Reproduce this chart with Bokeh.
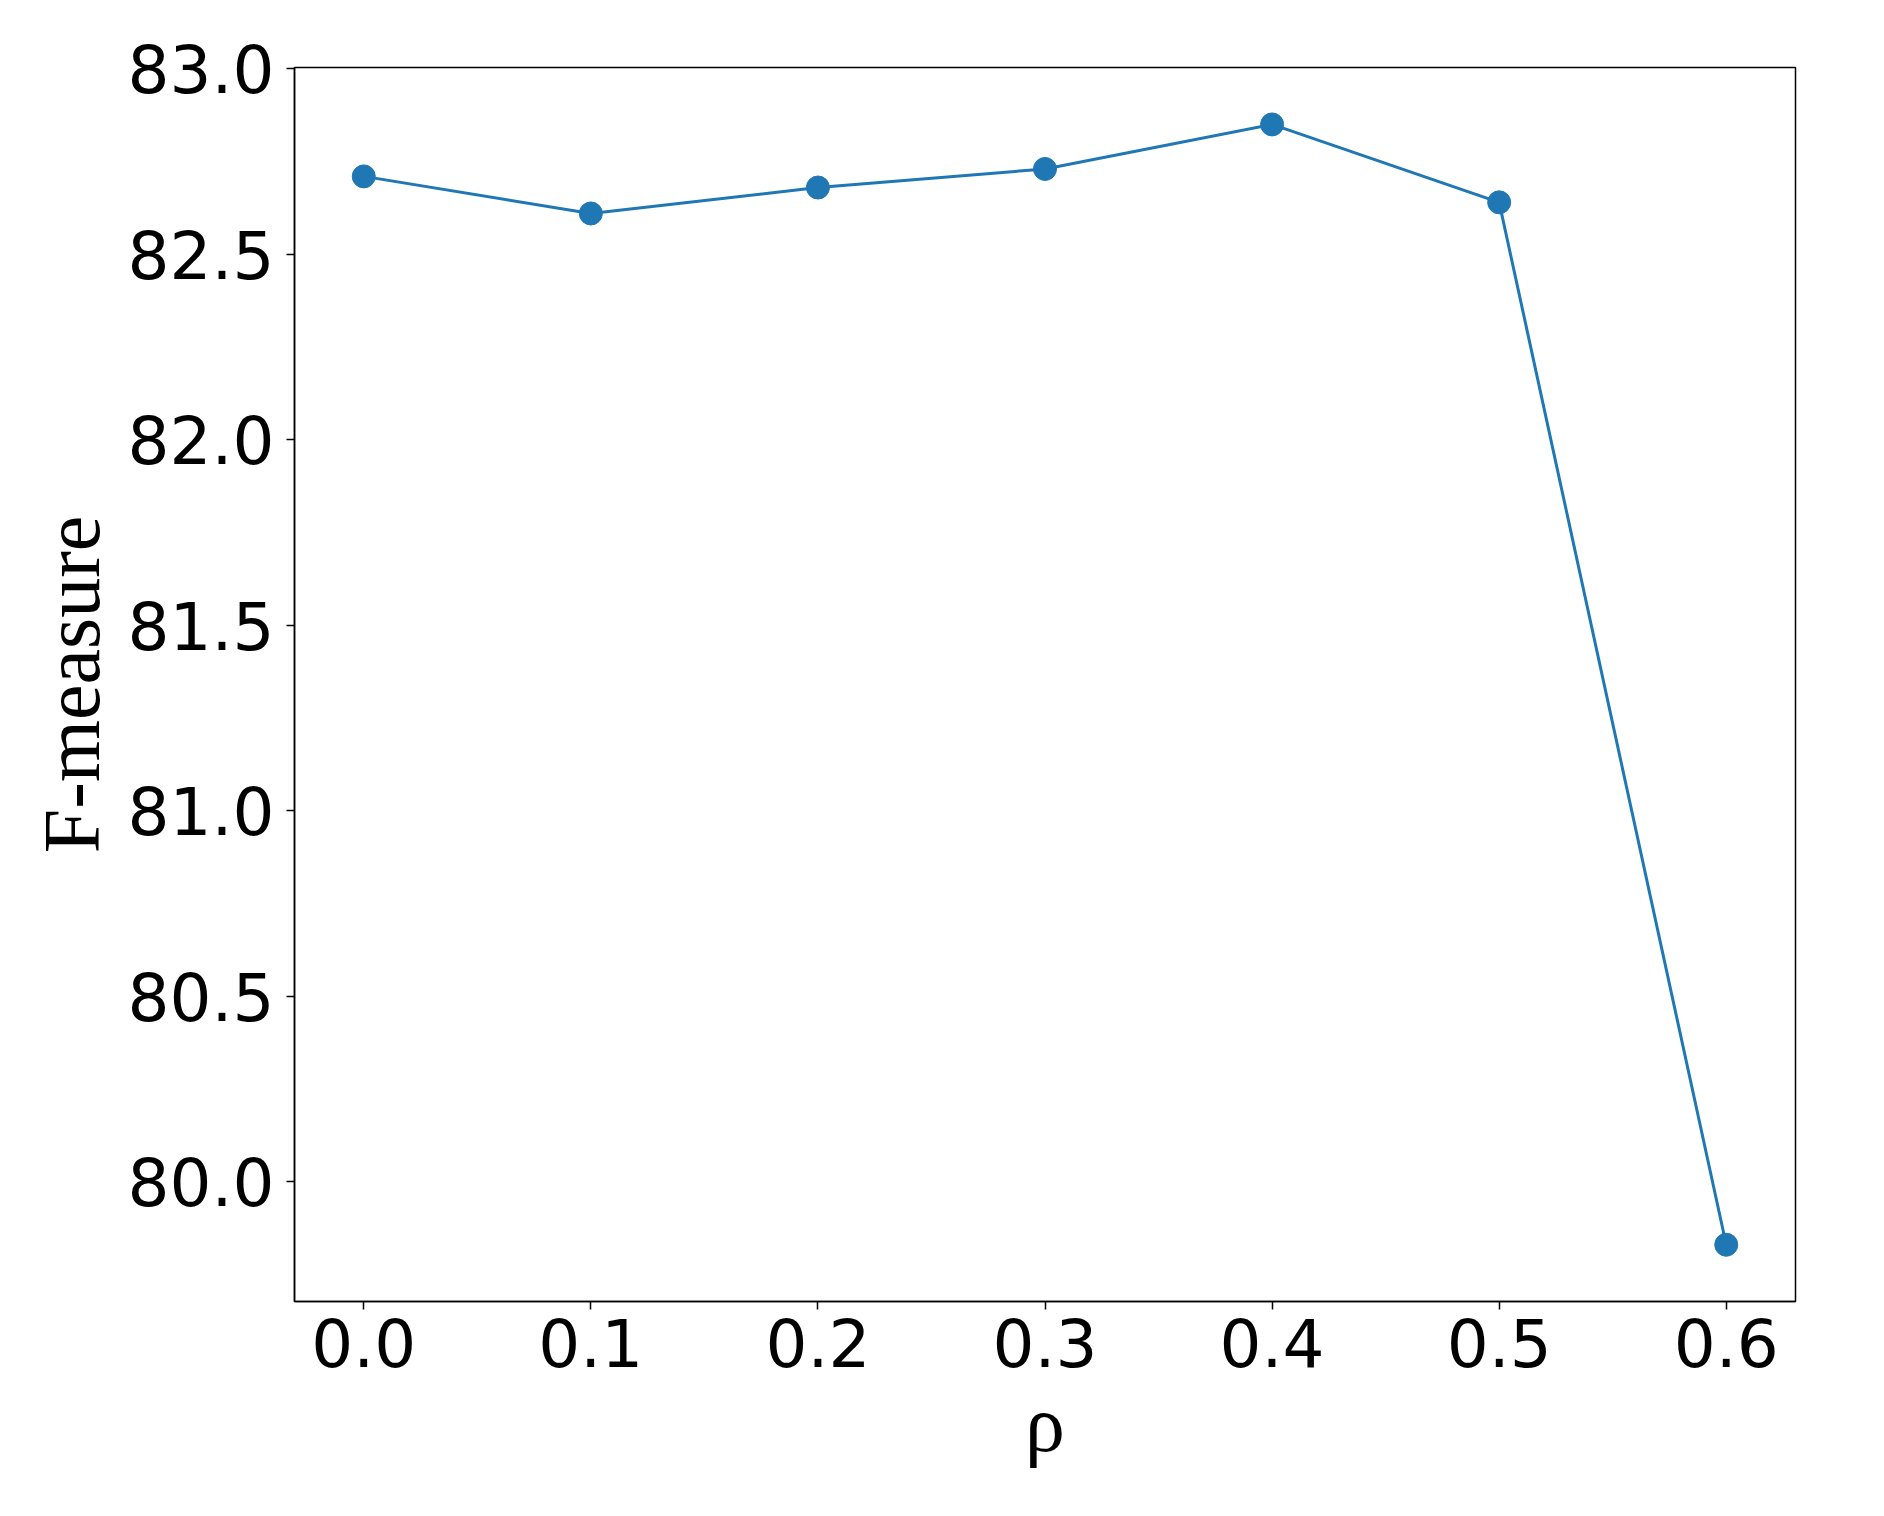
from bokeh.plotting import figure
from bokeh.models import FixedTicker, Range1d, CustomJSTickFormatter
from bokeh.embed import file_html
from bokeh.resources import INLINE

rho = [0.0, 0.1, 0.2, 0.3, 0.4, 0.5, 0.6]
f_measure = [82.71, 82.61, 82.68, 82.73, 82.85, 82.64, 79.83]
x_ticks = [0.0, 0.1, 0.2, 0.3, 0.4, 0.5, 0.6]
y_ticks = [80.0, 80.5, 81.0, 81.5, 82.0, 82.5, 83.0]
x_label = "ρ"
y_label = "F-measure"

color = "#1f77b4"

p = figure(width=1868, height=1500, output_backend="svg", toolbar_location=None,
           x_range=Range1d(-0.0305, 0.6305), y_range=Range1d(79.677, 83.0035),
           min_border_left=294, min_border_right=73, min_border_top=67, min_border_bottom=199)
p.background_fill_color = "white"
p.border_fill_color = "white"
p.grid.visible = False
p.outline_line_color = "black"
p.outline_line_width = 1.5
p.outline_line_alpha = 1.0

p.line(rho, f_measure, line_color=color, line_width=3)
p.scatter(rho, f_measure, size=23, fill_color=color, line_color=color)

p.xaxis.ticker = FixedTicker(ticks=x_ticks)
p.yaxis.ticker = FixedTicker(ticks=y_ticks)
fmt = CustomJSTickFormatter(code="return tick.toFixed(1);")
p.xaxis.formatter = fmt
p.yaxis.formatter = fmt

for ax in [p.xaxis[0], p.yaxis[0]]:
    ax.major_label_text_font = "DejaVu Sans"
    ax.major_label_text_font_size = "66px"
    ax.major_label_text_color = "black"
    ax.axis_line_color = "black"
    ax.axis_line_width = 1.5
    ax.major_tick_line_color = "black"
    ax.major_tick_line_width = 1.5
    ax.major_tick_out = 8
    ax.major_tick_in = 0
    ax.minor_tick_line_color = None
    ax.axis_label_text_font = "Liberation Serif"
    ax.axis_label_text_font_size = "80px"
    ax.axis_label_text_font_style = "normal"
    ax.axis_label_text_color = "black"

p.xaxis.axis_label = x_label
p.yaxis.axis_label = y_label
p.xaxis.major_label_standoff = 8
p.yaxis.major_label_standoff = 12
p.xaxis.axis_label_standoff = 10
p.yaxis.axis_label_standoff = 9

open("out.html", "w").write(file_html(p, INLINE))
